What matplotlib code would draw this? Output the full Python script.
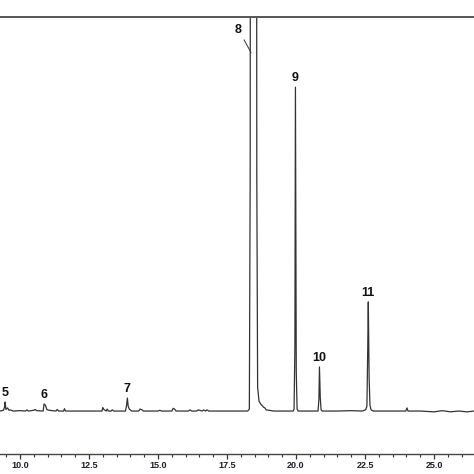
import numpy as np
import matplotlib.pyplot as plt

plt.rcParams['font.family'] = ['Liberation Sans', 'DejaVu Sans']

# Trazo del cromatograma (tiempo en min, señal en u.a.)
tiempo = [9.27, 9.40, 9.44, 9.46, 9.49, 9.55, 9.60, 9.65, 9.75, 10.0, 10.2, 10.25, 10.3,
          10.5, 10.55, 10.6, 10.84, 10.87, 10.92, 10.97, 11.05, 11.3, 11.35, 11.4, 11.58,
          11.61, 11.65, 12.5, 12.97, 13.0, 13.04, 13.12, 13.16, 13.2, 13.3, 13.34, 13.4,
          13.82, 13.86, 13.89, 13.92, 13.96, 14.05, 14.3, 14.35, 14.42, 14.47, 15.0, 15.07,
          15.12, 15.5, 15.55, 15.6, 15.66, 16.1, 16.16, 16.22, 16.4, 16.46, 16.6, 16.66,
          16.72, 16.78, 16.84, 17.5, 18.25, 18.31, 18.34, 18.37, 18.55, 18.58, 18.61,
          18.66, 18.72, 18.82, 18.87, 18.92, 19.2, 19.9, 19.93, 19.96, 19.98, 20.01,
          20.04, 20.08, 20.5, 20.80, 20.83, 20.85, 20.88, 20.91, 20.95, 21.5, 22.0, 22.4,
          22.52, 22.57, 22.60, 22.62, 22.65, 22.68, 22.72, 22.8, 23.0, 23.5, 23.98, 24.02,
          24.06, 24.5, 25.0, 25.3, 25.6, 25.9, 26.2, 26.46]
senal = [0.0, 0.2, 1.0, 2.3, 0.4, 0.8, 0.2, 0.3, 0.0, 0.1, 0.0, 0.3, 0.0,
         0.2, 0.4, 0.1, 0.0, 1.8, 1.5, 0.4, 0.2, 0.0, 0.4, 0.0, 0.0,
         0.6, 0.0, 0.0, 0.0, 0.9, 0.4, 0.0, 0.5, 0.0, 0.0, 0.3, 0.0,
         0.0, 1.4, 3.3, 1.2, 0.5, 0.0, 0.0, 0.5, 0.3, 0.0, 0.0, 0.2,
         0.0, 0.0, 0.7, 0.5, 0.0, 0.0, 0.3, 0.0, 0.0, 0.3, 0.0, 0.3,
         0.0, 0.3, 0.0, 0.0, 0.0, 0.5, 60.0, 400.0, 400.0, 60.0, 6.0,
         2.5, 1.8, 1.0, 0.8, 0.3, 0.0, 0.0, 0.5, 16.0, 82.2, 10.0,
         0.5, 0.0, 0.0, 0.0, 3.0, 11.2, 3.3, 0.3, 0.0, 0.0, 0.1, 0.0,
         0.3, 1.2, 16.0, 27.7, 8.4, 1.5, 0.3, 0.0, 0.0, 0.0, 0.0, 0.8,
         0.0, 0.0, -0.2, 0.1, -0.2, 0.0, -0.2, 0.0]

# Picos identificados
picos = ['5', '6', '7', '8', '9', '10', '11']
t_picos = [9.46, 10.87, 13.89, 18.37, 19.98, 20.85, 22.62]
h_picos = [2.3, 1.8, 3.3, 91.0, 82.2, 11.2, 27.7]

fig = plt.figure(figsize=(4.74, 4.74), dpi=100)
ax = fig.add_axes([0.0, 0.0422, 1.0, 0.9219])

ax.plot(tiempo, senal, color='#333333', lw=0.9)

for i in range(len(picos)):
    if picos[i] == '8':
        # etiqueta con linea guia porque el pico sale del recuadro
        ax.annotate(picos[i], xy=(t_picos[i], h_picos[i]), xytext=(-9, 12),
                    textcoords='offset points', ha='center', va='bottom',
                    fontsize=9, fontweight='bold', color='#111111',
                    arrowprops=dict(arrowstyle='-', color='#333333', lw=0.7,
                                    shrinkA=1, shrinkB=0))
    else:
        ax.annotate(picos[i], xy=(t_picos[i], h_picos[i]), xytext=(0, 2),
                    textcoords='offset points', ha='center', va='bottom',
                    fontsize=9, fontweight='bold', color='#111111')

ax.set_xticks(np.arange(10.0, 27.6, 2.5))
ax.set_xticks(np.arange(9.5, 26.5, 0.5), minor=True)
ax.set_xticklabels(['%.1f' % v for v in np.arange(10.0, 27.6, 2.5)])
ax.tick_params(axis='x', which='major', direction='out', length=3.5, width=0.9,
               pad=1.5, labelsize=6.5, colors='#333333', labelcolor='#1e1e2e')
ax.tick_params(axis='x', which='minor', direction='out', length=2, width=0.8,
               colors='#333333')
for lab in ax.get_xticklabels():
    lab.set_fontweight('bold')
ax.set_yticks([])
# los limites van despues de los ticks para que no se amplien
ax.set_xlim(9.275, 26.45)
ax.set_ylim(-10.9, 100)

ax.spines['left'].set_visible(False)
ax.spines['right'].set_visible(False)
ax.spines['top'].set_color('#555555')
ax.spines['bottom'].set_color('#444444')
ax.spines['top'].set_linewidth(1.4)
ax.spines['bottom'].set_linewidth(1.0)

plt.savefig('out.png', dpi=100)
plt.close()
